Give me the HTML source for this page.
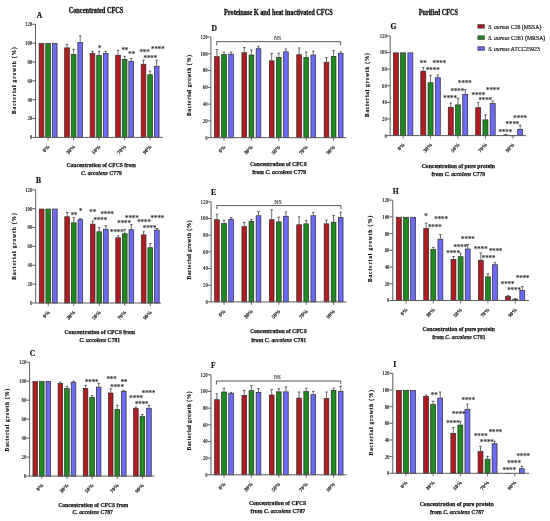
<!DOCTYPE html>
<html><head><meta charset="utf-8"><title>Figure</title>
<style>
html,body{margin:0;padding:0;background:#fff;}
body{width:550px;height:521px;overflow:hidden;}
svg{display:block;}
text{font-family:"Liberation Serif", "Times New Roman", serif;}
</style></head>
<body>
<svg width="550" height="521" viewBox="0 0 550 521">
<rect width="550" height="521" fill="#fff"/>
<rect x="39.15" y="43.50" width="4.70" height="93.90" fill="#b01c1f" stroke="#2a2a2a" stroke-width="0.7"/>
<rect x="45.75" y="43.50" width="4.70" height="93.90" fill="#1f8a21" stroke="#2a2a2a" stroke-width="0.7"/>
<rect x="52.35" y="43.50" width="4.70" height="93.90" fill="#6b6bf8" stroke="#2a2a2a" stroke-width="0.7"/>
<path d="M67.00 47.49V44.38M65.70 44.38H68.30" stroke="#3a3a3a" stroke-width="0.75" fill="none"/>
<rect x="64.65" y="47.84" width="4.70" height="89.56" fill="#b01c1f" stroke="#2a2a2a" stroke-width="0.7"/>
<path d="M73.60 53.99V49.37M72.30 49.37H74.90" stroke="#3a3a3a" stroke-width="0.75" fill="none"/>
<rect x="71.25" y="54.34" width="4.70" height="83.06" fill="#1f8a21" stroke="#2a2a2a" stroke-width="0.7"/>
<path d="M80.20 42.02V35.89M78.90 35.89H81.50" stroke="#3a3a3a" stroke-width="0.75" fill="none"/>
<rect x="77.85" y="42.37" width="4.70" height="95.03" fill="#6b6bf8" stroke="#2a2a2a" stroke-width="0.7"/>
<path d="M92.50 53.23V51.26M91.20 51.26H93.80" stroke="#3a3a3a" stroke-width="0.75" fill="none"/>
<rect x="90.15" y="53.58" width="4.70" height="83.82" fill="#b01c1f" stroke="#2a2a2a" stroke-width="0.7"/>
<path d="M99.10 55.21V51.26M97.80 51.26H100.40" stroke="#3a3a3a" stroke-width="0.75" fill="none"/>
<rect x="96.75" y="55.56" width="4.70" height="81.84" fill="#1f8a21" stroke="#2a2a2a" stroke-width="0.7"/>
<path d="M105.70 53.23V51.26M104.40 51.26H107.00" stroke="#3a3a3a" stroke-width="0.75" fill="none"/>
<rect x="103.35" y="53.58" width="4.70" height="83.82" fill="#6b6bf8" stroke="#2a2a2a" stroke-width="0.7"/>
<path d="M118.00 54.84V50.31M116.70 50.31H119.30" stroke="#3a3a3a" stroke-width="0.75" fill="none"/>
<rect x="115.65" y="55.19" width="4.70" height="82.21" fill="#b01c1f" stroke="#2a2a2a" stroke-width="0.7"/>
<path d="M124.60 59.17V56.34M123.30 56.34H125.90" stroke="#3a3a3a" stroke-width="0.75" fill="none"/>
<rect x="122.25" y="59.52" width="4.70" height="77.88" fill="#1f8a21" stroke="#2a2a2a" stroke-width="0.7"/>
<path d="M131.20 60.87V58.61M129.90 58.61H132.50" stroke="#3a3a3a" stroke-width="0.75" fill="none"/>
<rect x="128.85" y="61.22" width="4.70" height="76.18" fill="#6b6bf8" stroke="#2a2a2a" stroke-width="0.7"/>
<path d="M143.50 63.89V60.12M142.20 60.12H144.80" stroke="#3a3a3a" stroke-width="0.75" fill="none"/>
<rect x="141.15" y="64.23" width="4.70" height="73.17" fill="#b01c1f" stroke="#2a2a2a" stroke-width="0.7"/>
<path d="M150.10 74.44V71.14M148.80 71.14H151.40" stroke="#3a3a3a" stroke-width="0.75" fill="none"/>
<rect x="147.75" y="74.79" width="4.70" height="62.61" fill="#1f8a21" stroke="#2a2a2a" stroke-width="0.7"/>
<path d="M156.70 65.86V60.12M155.40 60.12H158.00" stroke="#3a3a3a" stroke-width="0.75" fill="none"/>
<rect x="154.35" y="66.21" width="4.70" height="71.19" fill="#6b6bf8" stroke="#2a2a2a" stroke-width="0.7"/>
<path d="M35.50 24.30V137.40H162.80" stroke="#5c5c5c" stroke-width="1.0" fill="none"/>
<path d="M32.20 137.40H35.50M32.20 118.55H35.50M32.20 99.70H35.50M32.20 80.85H35.50M32.20 62.00H35.50M32.20 43.15H35.50M32.20 24.30H35.50" stroke="#4a4a4a" stroke-width="0.9" fill="none"/>
<text x="29.80" y="139.30" font-size="5.5" text-anchor="start" textLength="2.40" lengthAdjust="spacingAndGlyphs" style="font-weight:bold" fill="#222" >0</text>
<text x="27.40" y="120.45" font-size="5.5" text-anchor="start" textLength="4.80" lengthAdjust="spacingAndGlyphs" style="font-weight:bold" fill="#222" >20</text>
<text x="27.40" y="101.60" font-size="5.5" text-anchor="start" textLength="4.80" lengthAdjust="spacingAndGlyphs" style="font-weight:bold" fill="#222" >40</text>
<text x="27.40" y="82.75" font-size="5.5" text-anchor="start" textLength="4.80" lengthAdjust="spacingAndGlyphs" style="font-weight:bold" fill="#222" >60</text>
<text x="27.40" y="63.90" font-size="5.5" text-anchor="start" textLength="4.80" lengthAdjust="spacingAndGlyphs" style="font-weight:bold" fill="#222" >80</text>
<text x="25.00" y="45.05" font-size="5.5" text-anchor="start" textLength="7.20" lengthAdjust="spacingAndGlyphs" style="font-weight:bold" fill="#222" >100</text>
<text x="25.00" y="26.20" font-size="5.5" text-anchor="start" textLength="7.20" lengthAdjust="spacingAndGlyphs" style="font-weight:bold" fill="#222" >120</text>
<path d="M48.10 137.40V140.40" stroke="#4a4a4a" stroke-width="0.8"/>
<text x="0" y="0" font-size="5.2" font-weight="bold" text-anchor="end" fill="#222" stroke="#222" stroke-width="0.15" transform="translate(50.00 146.80) rotate(-48)">0%</text>
<path d="M73.60 137.40V140.40" stroke="#4a4a4a" stroke-width="0.8"/>
<text x="0" y="0" font-size="5.2" font-weight="bold" text-anchor="end" fill="#222" stroke="#222" stroke-width="0.15" transform="translate(75.50 146.80) rotate(-48)">30%</text>
<path d="M99.10 137.40V140.40" stroke="#4a4a4a" stroke-width="0.8"/>
<text x="0" y="0" font-size="5.2" font-weight="bold" text-anchor="end" fill="#222" stroke="#222" stroke-width="0.15" transform="translate(101.00 146.80) rotate(-48)">50%</text>
<path d="M124.60 137.40V140.40" stroke="#4a4a4a" stroke-width="0.8"/>
<text x="0" y="0" font-size="5.2" font-weight="bold" text-anchor="end" fill="#222" stroke="#222" stroke-width="0.15" transform="translate(126.50 146.80) rotate(-48)">70%</text>
<path d="M150.10 137.40V140.40" stroke="#4a4a4a" stroke-width="0.8"/>
<text x="0" y="0" font-size="5.2" font-weight="bold" text-anchor="end" fill="#222" stroke="#222" stroke-width="0.15" transform="translate(152.00 146.80) rotate(-48)">90%</text>
<text x="97.90" y="51.00" font-size="8.4" text-anchor="start" textLength="3.40" lengthAdjust="spacingAndGlyphs" style="" fill="#333"  stroke="#333" stroke-width="0.2">*</text>
<text x="121.40" y="53.00" font-size="8.4" text-anchor="start" textLength="6.80" lengthAdjust="spacingAndGlyphs" style="" fill="#333"  stroke="#333" stroke-width="0.2">**</text>
<text x="128.35" y="57.00" font-size="8.4" text-anchor="start" textLength="6.80" lengthAdjust="spacingAndGlyphs" style="" fill="#333"  stroke="#333" stroke-width="0.2">**</text>
<text x="139.40" y="55.00" font-size="8.4" text-anchor="start" textLength="10.20" lengthAdjust="spacingAndGlyphs" style="" fill="#333"  stroke="#333" stroke-width="0.2">***</text>
<text x="143.55" y="61.00" font-size="8.4" text-anchor="start" textLength="13.60" lengthAdjust="spacingAndGlyphs" style="" fill="#333"  stroke="#333" stroke-width="0.2">****</text>
<text x="151.00" y="52.00" font-size="8.4" text-anchor="start" textLength="13.60" lengthAdjust="spacingAndGlyphs" style="" fill="#333"  stroke="#333" stroke-width="0.2">****</text>
<text x="36.80" y="17.90" font-size="7.6" text-anchor="start" style="font-weight:bold" fill="#111"  stroke="#111" stroke-width="0.2">A</text>
<text x="0" y="0" font-size="5.5" font-weight="bold" text-anchor="middle" textLength="66.80" lengthAdjust="spacing" fill="#111" stroke="#111" stroke-width="0.15" transform="translate(15.50 80.60) rotate(-90)">Bacterial growth (%)</text>
<text x="66.50" y="167.20" font-size="7.0" text-anchor="start" textLength="69.40" lengthAdjust="spacingAndGlyphs" style="font-weight:bold" fill="#111"  stroke="#111" stroke-width="0.25">Concentration of CFCS from</text>
<text x="81.10" y="175.20" font-size="7.0" text-anchor="start" textLength="40.70" lengthAdjust="spacingAndGlyphs" style="font-weight:bold" fill="#111"  stroke="#111" stroke-width="0.25"><tspan font-style="italic">C. accolens</tspan> C779</text>
<rect x="39.30" y="209.05" width="4.70" height="93.95" fill="#b01c1f" stroke="#2a2a2a" stroke-width="0.7"/>
<rect x="45.90" y="209.05" width="4.70" height="93.95" fill="#1f8a21" stroke="#2a2a2a" stroke-width="0.7"/>
<rect x="52.50" y="209.05" width="4.70" height="93.95" fill="#6b6bf8" stroke="#2a2a2a" stroke-width="0.7"/>
<path d="M67.15 216.43V212.47M65.85 212.47H68.45" stroke="#3a3a3a" stroke-width="0.75" fill="none"/>
<rect x="64.80" y="216.78" width="4.70" height="86.22" fill="#b01c1f" stroke="#2a2a2a" stroke-width="0.7"/>
<path d="M73.75 222.47V217.66M72.45 217.66H75.05" stroke="#3a3a3a" stroke-width="0.75" fill="none"/>
<rect x="71.40" y="222.82" width="4.70" height="80.18" fill="#1f8a21" stroke="#2a2a2a" stroke-width="0.7"/>
<path d="M80.35 219.36V218.70M79.05 218.70H81.65" stroke="#3a3a3a" stroke-width="0.75" fill="none"/>
<rect x="78.00" y="219.71" width="4.70" height="83.29" fill="#6b6bf8" stroke="#2a2a2a" stroke-width="0.7"/>
<path d="M92.65 223.79V221.05M91.35 221.05H93.95" stroke="#3a3a3a" stroke-width="0.75" fill="none"/>
<rect x="90.30" y="224.14" width="4.70" height="78.86" fill="#b01c1f" stroke="#2a2a2a" stroke-width="0.7"/>
<path d="M99.25 231.43V227.65M97.95 227.65H100.55" stroke="#3a3a3a" stroke-width="0.75" fill="none"/>
<rect x="96.90" y="231.78" width="4.70" height="71.22" fill="#1f8a21" stroke="#2a2a2a" stroke-width="0.7"/>
<path d="M105.85 228.88V225.77M104.55 225.77H107.15" stroke="#3a3a3a" stroke-width="0.75" fill="none"/>
<rect x="103.50" y="229.23" width="4.70" height="73.77" fill="#6b6bf8" stroke="#2a2a2a" stroke-width="0.7"/>
<path d="M118.15 237.46V235.76M116.85 235.76H119.45" stroke="#3a3a3a" stroke-width="0.75" fill="none"/>
<rect x="115.80" y="237.81" width="4.70" height="65.19" fill="#b01c1f" stroke="#2a2a2a" stroke-width="0.7"/>
<path d="M124.75 233.41V229.35M123.45 229.35H126.05" stroke="#3a3a3a" stroke-width="0.75" fill="none"/>
<rect x="122.40" y="233.76" width="4.70" height="69.24" fill="#1f8a21" stroke="#2a2a2a" stroke-width="0.7"/>
<path d="M131.35 229.35V224.54M130.05 224.54H132.65" stroke="#3a3a3a" stroke-width="0.75" fill="none"/>
<rect x="129.00" y="229.70" width="4.70" height="73.30" fill="#6b6bf8" stroke="#2a2a2a" stroke-width="0.7"/>
<path d="M143.65 234.54V231.80M142.35 231.80H144.95" stroke="#3a3a3a" stroke-width="0.75" fill="none"/>
<rect x="141.30" y="234.89" width="4.70" height="68.11" fill="#b01c1f" stroke="#2a2a2a" stroke-width="0.7"/>
<path d="M150.25 247.36V243.59M148.95 243.59H151.55" stroke="#3a3a3a" stroke-width="0.75" fill="none"/>
<rect x="147.90" y="247.71" width="4.70" height="55.29" fill="#1f8a21" stroke="#2a2a2a" stroke-width="0.7"/>
<path d="M156.85 229.63V228.50M155.55 228.50H158.15" stroke="#3a3a3a" stroke-width="0.75" fill="none"/>
<rect x="154.50" y="229.98" width="4.70" height="73.02" fill="#6b6bf8" stroke="#2a2a2a" stroke-width="0.7"/>
<path d="M35.70 189.84V303.00H161.00" stroke="#5c5c5c" stroke-width="1.0" fill="none"/>
<path d="M32.40 303.00H35.70M32.40 284.14H35.70M32.40 265.28H35.70M32.40 246.42H35.70M32.40 227.56H35.70M32.40 208.70H35.70M32.40 189.84H35.70" stroke="#4a4a4a" stroke-width="0.9" fill="none"/>
<text x="30.00" y="304.90" font-size="5.5" text-anchor="start" textLength="2.40" lengthAdjust="spacingAndGlyphs" style="font-weight:bold" fill="#222" >0</text>
<text x="27.60" y="286.04" font-size="5.5" text-anchor="start" textLength="4.80" lengthAdjust="spacingAndGlyphs" style="font-weight:bold" fill="#222" >20</text>
<text x="27.60" y="267.18" font-size="5.5" text-anchor="start" textLength="4.80" lengthAdjust="spacingAndGlyphs" style="font-weight:bold" fill="#222" >40</text>
<text x="27.60" y="248.32" font-size="5.5" text-anchor="start" textLength="4.80" lengthAdjust="spacingAndGlyphs" style="font-weight:bold" fill="#222" >60</text>
<text x="27.60" y="229.46" font-size="5.5" text-anchor="start" textLength="4.80" lengthAdjust="spacingAndGlyphs" style="font-weight:bold" fill="#222" >80</text>
<text x="25.20" y="210.60" font-size="5.5" text-anchor="start" textLength="7.20" lengthAdjust="spacingAndGlyphs" style="font-weight:bold" fill="#222" >100</text>
<text x="25.20" y="191.74" font-size="5.5" text-anchor="start" textLength="7.20" lengthAdjust="spacingAndGlyphs" style="font-weight:bold" fill="#222" >120</text>
<path d="M48.25 303.00V306.00" stroke="#4a4a4a" stroke-width="0.8"/>
<text x="0" y="0" font-size="5.2" font-weight="bold" text-anchor="end" fill="#222" stroke="#222" stroke-width="0.15" transform="translate(50.15 312.40) rotate(-48)">0%</text>
<path d="M73.75 303.00V306.00" stroke="#4a4a4a" stroke-width="0.8"/>
<text x="0" y="0" font-size="5.2" font-weight="bold" text-anchor="end" fill="#222" stroke="#222" stroke-width="0.15" transform="translate(75.65 312.40) rotate(-48)">30%</text>
<path d="M99.25 303.00V306.00" stroke="#4a4a4a" stroke-width="0.8"/>
<text x="0" y="0" font-size="5.2" font-weight="bold" text-anchor="end" fill="#222" stroke="#222" stroke-width="0.15" transform="translate(101.15 312.40) rotate(-48)">50%</text>
<path d="M124.75 303.00V306.00" stroke="#4a4a4a" stroke-width="0.8"/>
<text x="0" y="0" font-size="5.2" font-weight="bold" text-anchor="end" fill="#222" stroke="#222" stroke-width="0.15" transform="translate(126.65 312.40) rotate(-48)">70%</text>
<path d="M150.25 303.00V306.00" stroke="#4a4a4a" stroke-width="0.8"/>
<text x="0" y="0" font-size="5.2" font-weight="bold" text-anchor="end" fill="#222" stroke="#222" stroke-width="0.15" transform="translate(152.15 312.40) rotate(-48)">90%</text>
<text x="70.70" y="218.00" font-size="8.4" text-anchor="start" textLength="6.80" lengthAdjust="spacingAndGlyphs" style="" fill="#333"  stroke="#333" stroke-width="0.2">**</text>
<text x="78.95" y="214.00" font-size="8.4" text-anchor="start" textLength="3.40" lengthAdjust="spacingAndGlyphs" style="" fill="#333"  stroke="#333" stroke-width="0.2">*</text>
<text x="89.30" y="215.00" font-size="8.4" text-anchor="start" textLength="6.80" lengthAdjust="spacingAndGlyphs" style="" fill="#333"  stroke="#333" stroke-width="0.2">**</text>
<text x="93.50" y="223.00" font-size="8.4" text-anchor="start" textLength="13.60" lengthAdjust="spacingAndGlyphs" style="" fill="#333"  stroke="#333" stroke-width="0.2">****</text>
<text x="100.40" y="217.00" font-size="8.4" text-anchor="start" textLength="13.60" lengthAdjust="spacingAndGlyphs" style="" fill="#333"  stroke="#333" stroke-width="0.2">****</text>
<text x="110.00" y="235.00" font-size="8.4" text-anchor="start" textLength="13.60" lengthAdjust="spacingAndGlyphs" style="" fill="#333"  stroke="#333" stroke-width="0.2">****</text>
<text x="117.25" y="226.00" font-size="8.4" text-anchor="start" textLength="13.60" lengthAdjust="spacingAndGlyphs" style="" fill="#333"  stroke="#333" stroke-width="0.2">****</text>
<text x="125.00" y="221.00" font-size="8.4" text-anchor="start" textLength="13.60" lengthAdjust="spacingAndGlyphs" style="" fill="#333"  stroke="#333" stroke-width="0.2">****</text>
<text x="137.20" y="225.00" font-size="8.4" text-anchor="start" textLength="13.60" lengthAdjust="spacingAndGlyphs" style="" fill="#333"  stroke="#333" stroke-width="0.2">****</text>
<text x="142.80" y="231.00" font-size="8.4" text-anchor="start" textLength="13.60" lengthAdjust="spacingAndGlyphs" style="" fill="#333"  stroke="#333" stroke-width="0.2">****</text>
<text x="150.60" y="221.00" font-size="8.4" text-anchor="start" textLength="13.60" lengthAdjust="spacingAndGlyphs" style="" fill="#333"  stroke="#333" stroke-width="0.2">****</text>
<text x="36.10" y="183.30" font-size="7.6" text-anchor="start" style="font-weight:bold" fill="#111"  stroke="#111" stroke-width="0.2">B</text>
<text x="0" y="0" font-size="5.5" font-weight="bold" text-anchor="middle" textLength="66.50" lengthAdjust="spacing" fill="#111" stroke="#111" stroke-width="0.15" transform="translate(15.60 246.50) rotate(-90)">Bacterial growth (%)</text>
<text x="64.50" y="334.10" font-size="7.0" text-anchor="start" textLength="70.60" lengthAdjust="spacingAndGlyphs" style="font-weight:bold" fill="#111"  stroke="#111" stroke-width="0.25">Concentration of CFCS from</text>
<text x="79.50" y="341.90" font-size="7.0" text-anchor="start" textLength="40.60" lengthAdjust="spacingAndGlyphs" style="font-weight:bold" fill="#111"  stroke="#111" stroke-width="0.25"><tspan font-style="italic">C. accolens</tspan> C781</text>
<rect x="32.95" y="381.55" width="4.60" height="94.55" fill="#b01c1f" stroke="#2a2a2a" stroke-width="0.7"/>
<rect x="39.50" y="381.55" width="4.60" height="94.55" fill="#1f8a21" stroke="#2a2a2a" stroke-width="0.7"/>
<rect x="46.05" y="381.55" width="4.60" height="94.55" fill="#6b6bf8" stroke="#2a2a2a" stroke-width="0.7"/>
<path d="M60.40 383.19V382.15M59.10 382.15H61.70" stroke="#3a3a3a" stroke-width="0.75" fill="none"/>
<rect x="58.10" y="383.54" width="4.60" height="92.56" fill="#b01c1f" stroke="#2a2a2a" stroke-width="0.7"/>
<path d="M66.95 388.13V386.42M65.65 386.42H68.25" stroke="#3a3a3a" stroke-width="0.75" fill="none"/>
<rect x="64.65" y="388.48" width="4.60" height="87.62" fill="#1f8a21" stroke="#2a2a2a" stroke-width="0.7"/>
<path d="M73.50 381.96V381.20M72.20 381.20H74.80" stroke="#3a3a3a" stroke-width="0.75" fill="none"/>
<rect x="71.20" y="382.31" width="4.60" height="93.79" fill="#6b6bf8" stroke="#2a2a2a" stroke-width="0.7"/>
<path d="M85.55 388.03V385.38M84.25 385.38H86.85" stroke="#3a3a3a" stroke-width="0.75" fill="none"/>
<rect x="83.25" y="388.38" width="4.60" height="87.72" fill="#b01c1f" stroke="#2a2a2a" stroke-width="0.7"/>
<path d="M92.10 396.95V395.53M90.80 395.53H93.40" stroke="#3a3a3a" stroke-width="0.75" fill="none"/>
<rect x="89.80" y="397.30" width="4.60" height="78.80" fill="#1f8a21" stroke="#2a2a2a" stroke-width="0.7"/>
<path d="M98.65 386.80V383.38M97.35 383.38H99.95" stroke="#3a3a3a" stroke-width="0.75" fill="none"/>
<rect x="96.35" y="387.15" width="4.60" height="88.95" fill="#6b6bf8" stroke="#2a2a2a" stroke-width="0.7"/>
<path d="M110.70 392.68V388.89M109.40 388.89H112.00" stroke="#3a3a3a" stroke-width="0.75" fill="none"/>
<rect x="108.40" y="393.03" width="4.60" height="83.07" fill="#b01c1f" stroke="#2a2a2a" stroke-width="0.7"/>
<path d="M117.25 409.10V405.30M115.95 405.30H118.55" stroke="#3a3a3a" stroke-width="0.75" fill="none"/>
<rect x="114.95" y="409.45" width="4.60" height="66.65" fill="#1f8a21" stroke="#2a2a2a" stroke-width="0.7"/>
<path d="M123.80 391.07V390.60M122.50 390.60H125.10" stroke="#3a3a3a" stroke-width="0.75" fill="none"/>
<rect x="121.50" y="391.42" width="4.60" height="84.68" fill="#6b6bf8" stroke="#2a2a2a" stroke-width="0.7"/>
<path d="M135.85 408.25V407.01M134.55 407.01H137.15" stroke="#3a3a3a" stroke-width="0.75" fill="none"/>
<rect x="133.55" y="408.60" width="4.60" height="67.50" fill="#b01c1f" stroke="#2a2a2a" stroke-width="0.7"/>
<path d="M142.40 416.22V414.51M141.10 414.51H143.70" stroke="#3a3a3a" stroke-width="0.75" fill="none"/>
<rect x="140.10" y="416.57" width="4.60" height="59.53" fill="#1f8a21" stroke="#2a2a2a" stroke-width="0.7"/>
<path d="M148.95 407.87V405.30M147.65 405.30H150.25" stroke="#3a3a3a" stroke-width="0.75" fill="none"/>
<rect x="146.65" y="408.22" width="4.60" height="67.88" fill="#6b6bf8" stroke="#2a2a2a" stroke-width="0.7"/>
<path d="M29.60 362.22V476.10H154.50" stroke="#5c5c5c" stroke-width="1.0" fill="none"/>
<path d="M26.30 476.10H29.60M26.30 457.12H29.60M26.30 438.14H29.60M26.30 419.16H29.60M26.30 400.18H29.60M26.30 381.20H29.60M26.30 362.22H29.60" stroke="#4a4a4a" stroke-width="0.9" fill="none"/>
<text x="23.90" y="478.00" font-size="5.5" text-anchor="start" textLength="2.40" lengthAdjust="spacingAndGlyphs" style="font-weight:bold" fill="#222" >0</text>
<text x="21.50" y="459.02" font-size="5.5" text-anchor="start" textLength="4.80" lengthAdjust="spacingAndGlyphs" style="font-weight:bold" fill="#222" >20</text>
<text x="21.50" y="440.04" font-size="5.5" text-anchor="start" textLength="4.80" lengthAdjust="spacingAndGlyphs" style="font-weight:bold" fill="#222" >40</text>
<text x="21.50" y="421.06" font-size="5.5" text-anchor="start" textLength="4.80" lengthAdjust="spacingAndGlyphs" style="font-weight:bold" fill="#222" >60</text>
<text x="21.50" y="402.08" font-size="5.5" text-anchor="start" textLength="4.80" lengthAdjust="spacingAndGlyphs" style="font-weight:bold" fill="#222" >80</text>
<text x="19.10" y="383.10" font-size="5.5" text-anchor="start" textLength="7.20" lengthAdjust="spacingAndGlyphs" style="font-weight:bold" fill="#222" >100</text>
<text x="19.10" y="364.12" font-size="5.5" text-anchor="start" textLength="7.20" lengthAdjust="spacingAndGlyphs" style="font-weight:bold" fill="#222" >120</text>
<path d="M41.80 476.10V479.10" stroke="#4a4a4a" stroke-width="0.8"/>
<text x="0" y="0" font-size="5.2" font-weight="bold" text-anchor="end" fill="#222" stroke="#222" stroke-width="0.15" transform="translate(43.70 485.50) rotate(-48)">0%</text>
<path d="M66.95 476.10V479.10" stroke="#4a4a4a" stroke-width="0.8"/>
<text x="0" y="0" font-size="5.2" font-weight="bold" text-anchor="end" fill="#222" stroke="#222" stroke-width="0.15" transform="translate(68.85 485.50) rotate(-48)">30%</text>
<path d="M92.10 476.10V479.10" stroke="#4a4a4a" stroke-width="0.8"/>
<text x="0" y="0" font-size="5.2" font-weight="bold" text-anchor="end" fill="#222" stroke="#222" stroke-width="0.15" transform="translate(94.00 485.50) rotate(-48)">50%</text>
<path d="M117.25 476.10V479.10" stroke="#4a4a4a" stroke-width="0.8"/>
<text x="0" y="0" font-size="5.2" font-weight="bold" text-anchor="end" fill="#222" stroke="#222" stroke-width="0.15" transform="translate(119.15 485.50) rotate(-48)">70%</text>
<path d="M142.40 476.10V479.10" stroke="#4a4a4a" stroke-width="0.8"/>
<text x="0" y="0" font-size="5.2" font-weight="bold" text-anchor="end" fill="#222" stroke="#222" stroke-width="0.15" transform="translate(144.30 485.50) rotate(-48)">90%</text>
<text x="84.90" y="385.00" font-size="8.4" text-anchor="start" textLength="13.60" lengthAdjust="spacingAndGlyphs" style="" fill="#333"  stroke="#333" stroke-width="0.2">****</text>
<text x="106.45" y="382.00" font-size="8.4" text-anchor="start" textLength="10.20" lengthAdjust="spacingAndGlyphs" style="" fill="#333"  stroke="#333" stroke-width="0.2">***</text>
<text x="110.30" y="390.00" font-size="8.4" text-anchor="start" textLength="13.60" lengthAdjust="spacingAndGlyphs" style="" fill="#333"  stroke="#333" stroke-width="0.2">****</text>
<text x="120.65" y="385.00" font-size="8.4" text-anchor="start" textLength="6.80" lengthAdjust="spacingAndGlyphs" style="" fill="#333"  stroke="#333" stroke-width="0.2">**</text>
<text x="129.35" y="401.00" font-size="8.4" text-anchor="start" textLength="13.60" lengthAdjust="spacingAndGlyphs" style="" fill="#333"  stroke="#333" stroke-width="0.2">****</text>
<text x="134.90" y="407.00" font-size="8.4" text-anchor="start" textLength="13.60" lengthAdjust="spacingAndGlyphs" style="" fill="#333"  stroke="#333" stroke-width="0.2">****</text>
<text x="141.80" y="396.00" font-size="8.4" text-anchor="start" textLength="13.60" lengthAdjust="spacingAndGlyphs" style="" fill="#333"  stroke="#333" stroke-width="0.2">****</text>
<text x="29.70" y="356.10" font-size="7.6" text-anchor="start" style="font-weight:bold" fill="#111"  stroke="#111" stroke-width="0.2">C</text>
<text x="0" y="0" font-size="5.5" font-weight="bold" text-anchor="middle" textLength="62.80" lengthAdjust="spacing" fill="#111" stroke="#111" stroke-width="0.15" transform="translate(9.40 420.00) rotate(-90)">Bacterial growth (%)</text>
<text x="58.20" y="506.70" font-size="7.0" text-anchor="start" textLength="70.10" lengthAdjust="spacingAndGlyphs" style="font-weight:bold" fill="#111"  stroke="#111" stroke-width="0.25">Concentration of CFCS from</text>
<text x="72.60" y="514.20" font-size="7.0" text-anchor="start" textLength="40.30" lengthAdjust="spacingAndGlyphs" style="font-weight:bold" fill="#111"  stroke="#111" stroke-width="0.25"><tspan font-style="italic">C. accolens</tspan> C787</text>
<path d="M216.90 56.32V49.60M215.60 49.60H218.20" stroke="#3a3a3a" stroke-width="0.75" fill="none"/>
<rect x="214.55" y="56.67" width="4.70" height="81.03" fill="#b01c1f" stroke="#2a2a2a" stroke-width="0.7"/>
<path d="M224.00 54.14V52.12M222.70 52.12H225.30" stroke="#3a3a3a" stroke-width="0.75" fill="none"/>
<rect x="221.65" y="54.49" width="4.70" height="83.21" fill="#1f8a21" stroke="#2a2a2a" stroke-width="0.7"/>
<path d="M231.10 53.80V52.12M229.80 52.12H232.40" stroke="#3a3a3a" stroke-width="0.75" fill="none"/>
<rect x="228.75" y="54.15" width="4.70" height="83.55" fill="#6b6bf8" stroke="#2a2a2a" stroke-width="0.7"/>
<path d="M244.30 52.37V47.51M243.00 47.51H245.60" stroke="#3a3a3a" stroke-width="0.75" fill="none"/>
<rect x="241.95" y="52.72" width="4.70" height="84.98" fill="#b01c1f" stroke="#2a2a2a" stroke-width="0.7"/>
<path d="M251.40 54.64V49.94M250.10 49.94H252.70" stroke="#3a3a3a" stroke-width="0.75" fill="none"/>
<rect x="249.05" y="54.99" width="4.70" height="82.71" fill="#1f8a21" stroke="#2a2a2a" stroke-width="0.7"/>
<path d="M258.50 48.35V46.25M257.20 46.25H259.80" stroke="#3a3a3a" stroke-width="0.75" fill="none"/>
<rect x="256.15" y="48.70" width="4.70" height="89.00" fill="#6b6bf8" stroke="#2a2a2a" stroke-width="0.7"/>
<path d="M271.70 60.51V53.38M270.40 53.38H273.00" stroke="#3a3a3a" stroke-width="0.75" fill="none"/>
<rect x="269.35" y="60.86" width="4.70" height="76.84" fill="#b01c1f" stroke="#2a2a2a" stroke-width="0.7"/>
<path d="M278.80 57.16V53.13M277.50 53.13H280.10" stroke="#3a3a3a" stroke-width="0.75" fill="none"/>
<rect x="276.45" y="57.51" width="4.70" height="80.19" fill="#1f8a21" stroke="#2a2a2a" stroke-width="0.7"/>
<path d="M285.90 51.45V48.93M284.60 48.93H287.20" stroke="#3a3a3a" stroke-width="0.75" fill="none"/>
<rect x="283.55" y="51.80" width="4.70" height="85.90" fill="#6b6bf8" stroke="#2a2a2a" stroke-width="0.7"/>
<path d="M299.10 54.39V47.93M297.80 47.93H300.40" stroke="#3a3a3a" stroke-width="0.75" fill="none"/>
<rect x="296.75" y="54.74" width="4.70" height="82.96" fill="#b01c1f" stroke="#2a2a2a" stroke-width="0.7"/>
<path d="M306.20 57.16V52.12M304.90 52.12H307.50" stroke="#3a3a3a" stroke-width="0.75" fill="none"/>
<rect x="303.85" y="57.51" width="4.70" height="80.19" fill="#1f8a21" stroke="#2a2a2a" stroke-width="0.7"/>
<path d="M313.30 54.64V51.28M312.00 51.28H314.60" stroke="#3a3a3a" stroke-width="0.75" fill="none"/>
<rect x="310.95" y="54.99" width="4.70" height="82.71" fill="#6b6bf8" stroke="#2a2a2a" stroke-width="0.7"/>
<path d="M326.50 61.85V57.58M325.20 57.58H327.80" stroke="#3a3a3a" stroke-width="0.75" fill="none"/>
<rect x="324.15" y="62.20" width="4.70" height="75.50" fill="#b01c1f" stroke="#2a2a2a" stroke-width="0.7"/>
<path d="M333.60 56.07V50.44M332.30 50.44H334.90" stroke="#3a3a3a" stroke-width="0.75" fill="none"/>
<rect x="331.25" y="56.42" width="4.70" height="81.28" fill="#1f8a21" stroke="#2a2a2a" stroke-width="0.7"/>
<path d="M340.70 53.13V51.87M339.40 51.87H342.00" stroke="#3a3a3a" stroke-width="0.75" fill="none"/>
<rect x="338.35" y="53.48" width="4.70" height="84.22" fill="#6b6bf8" stroke="#2a2a2a" stroke-width="0.7"/>
<path d="M210.90 37.02V137.70H346.40" stroke="#5c5c5c" stroke-width="1.0" fill="none"/>
<path d="M207.60 137.70H210.90M207.60 120.92H210.90M207.60 104.14H210.90M207.60 87.36H210.90M207.60 70.58H210.90M207.60 53.80H210.90M207.60 37.02H210.90" stroke="#4a4a4a" stroke-width="0.9" fill="none"/>
<text x="205.20" y="139.60" font-size="5.5" text-anchor="start" textLength="2.40" lengthAdjust="spacingAndGlyphs" style="font-weight:bold" fill="#222" >0</text>
<text x="202.80" y="122.82" font-size="5.5" text-anchor="start" textLength="4.80" lengthAdjust="spacingAndGlyphs" style="font-weight:bold" fill="#222" >20</text>
<text x="202.80" y="106.04" font-size="5.5" text-anchor="start" textLength="4.80" lengthAdjust="spacingAndGlyphs" style="font-weight:bold" fill="#222" >40</text>
<text x="202.80" y="89.26" font-size="5.5" text-anchor="start" textLength="4.80" lengthAdjust="spacingAndGlyphs" style="font-weight:bold" fill="#222" >60</text>
<text x="202.80" y="72.48" font-size="5.5" text-anchor="start" textLength="4.80" lengthAdjust="spacingAndGlyphs" style="font-weight:bold" fill="#222" >80</text>
<text x="200.40" y="55.70" font-size="5.5" text-anchor="start" textLength="7.20" lengthAdjust="spacingAndGlyphs" style="font-weight:bold" fill="#222" >100</text>
<text x="200.40" y="38.92" font-size="5.5" text-anchor="start" textLength="7.20" lengthAdjust="spacingAndGlyphs" style="font-weight:bold" fill="#222" >120</text>
<path d="M224.00 137.70V140.70" stroke="#4a4a4a" stroke-width="0.8"/>
<text x="0" y="0" font-size="5.2" font-weight="bold" text-anchor="end" fill="#222" stroke="#222" stroke-width="0.15" transform="translate(225.90 147.10) rotate(-48)">0%</text>
<path d="M251.40 137.70V140.70" stroke="#4a4a4a" stroke-width="0.8"/>
<text x="0" y="0" font-size="5.2" font-weight="bold" text-anchor="end" fill="#222" stroke="#222" stroke-width="0.15" transform="translate(253.30 147.10) rotate(-48)">30%</text>
<path d="M278.80 137.70V140.70" stroke="#4a4a4a" stroke-width="0.8"/>
<text x="0" y="0" font-size="5.2" font-weight="bold" text-anchor="end" fill="#222" stroke="#222" stroke-width="0.15" transform="translate(280.70 147.10) rotate(-48)">50%</text>
<path d="M306.20 137.70V140.70" stroke="#4a4a4a" stroke-width="0.8"/>
<text x="0" y="0" font-size="5.2" font-weight="bold" text-anchor="end" fill="#222" stroke="#222" stroke-width="0.15" transform="translate(308.10 147.10) rotate(-48)">70%</text>
<path d="M333.60 137.70V140.70" stroke="#4a4a4a" stroke-width="0.8"/>
<text x="0" y="0" font-size="5.2" font-weight="bold" text-anchor="end" fill="#222" stroke="#222" stroke-width="0.15" transform="translate(335.50 147.10) rotate(-48)">90%</text>
<path d="M216.70 45.30V41.70H340.70V45.30" stroke="#555" stroke-width="1.0" fill="none"/>
<text x="273.90" y="40.00" font-size="5.8" text-anchor="start" textLength="7.10" lengthAdjust="spacingAndGlyphs" style="" fill="#222"  stroke="#222" stroke-width="0.1">NS</text>
<text x="211.40" y="30.50" font-size="7.6" text-anchor="start" style="font-weight:bold" fill="#111"  stroke="#111" stroke-width="0.2">D</text>
<text x="0" y="0" font-size="5.5" font-weight="bold" text-anchor="middle" textLength="61.00" lengthAdjust="spacing" fill="#111" stroke="#111" stroke-width="0.15" transform="translate(190.80 85.40) rotate(-90)">Bacterial growth (%)</text>
<text x="249.90" y="166.00" font-size="7.0" text-anchor="start" textLength="56.90" lengthAdjust="spacingAndGlyphs" style="font-weight:bold" fill="#111"  stroke="#111" stroke-width="0.25">Concentration of CFCS</text>
<text x="252.20" y="173.90" font-size="7.0" text-anchor="start" textLength="54.00" lengthAdjust="spacingAndGlyphs" style="font-weight:bold" fill="#111"  stroke="#111" stroke-width="0.25">from <tspan font-style="italic">C. accolens</tspan> C779</text>
<path d="M216.90 219.42V214.33M215.60 214.33H218.20" stroke="#3a3a3a" stroke-width="0.75" fill="none"/>
<rect x="214.55" y="219.77" width="4.70" height="82.13" fill="#b01c1f" stroke="#2a2a2a" stroke-width="0.7"/>
<path d="M224.00 223.25V220.33M222.70 220.33H225.30" stroke="#3a3a3a" stroke-width="0.75" fill="none"/>
<rect x="221.65" y="223.60" width="4.70" height="78.30" fill="#1f8a21" stroke="#2a2a2a" stroke-width="0.7"/>
<path d="M231.10 218.92V217.67M229.80 217.67H232.40" stroke="#3a3a3a" stroke-width="0.75" fill="none"/>
<rect x="228.75" y="219.27" width="4.70" height="82.63" fill="#6b6bf8" stroke="#2a2a2a" stroke-width="0.7"/>
<path d="M244.30 226.34V222.34M243.00 222.34H245.60" stroke="#3a3a3a" stroke-width="0.75" fill="none"/>
<rect x="241.95" y="226.69" width="4.70" height="75.21" fill="#b01c1f" stroke="#2a2a2a" stroke-width="0.7"/>
<path d="M251.40 221.09V219.67M250.10 219.67H252.70" stroke="#3a3a3a" stroke-width="0.75" fill="none"/>
<rect x="249.05" y="221.44" width="4.70" height="80.46" fill="#1f8a21" stroke="#2a2a2a" stroke-width="0.7"/>
<path d="M258.50 215.41V211.58M257.20 211.58H259.80" stroke="#3a3a3a" stroke-width="0.75" fill="none"/>
<rect x="256.15" y="215.76" width="4.70" height="86.14" fill="#6b6bf8" stroke="#2a2a2a" stroke-width="0.7"/>
<path d="M271.70 219.33V209.83M270.40 209.83H273.00" stroke="#3a3a3a" stroke-width="0.75" fill="none"/>
<rect x="269.35" y="219.68" width="4.70" height="82.22" fill="#b01c1f" stroke="#2a2a2a" stroke-width="0.7"/>
<path d="M278.80 221.50V217.17M277.50 217.17H280.10" stroke="#3a3a3a" stroke-width="0.75" fill="none"/>
<rect x="276.45" y="221.85" width="4.70" height="80.05" fill="#1f8a21" stroke="#2a2a2a" stroke-width="0.7"/>
<path d="M285.90 215.91V211.99M284.60 211.99H287.20" stroke="#3a3a3a" stroke-width="0.75" fill="none"/>
<rect x="283.55" y="216.26" width="4.70" height="85.64" fill="#6b6bf8" stroke="#2a2a2a" stroke-width="0.7"/>
<path d="M299.10 224.42V216.83M297.80 216.83H300.40" stroke="#3a3a3a" stroke-width="0.75" fill="none"/>
<rect x="296.75" y="224.77" width="4.70" height="77.13" fill="#b01c1f" stroke="#2a2a2a" stroke-width="0.7"/>
<path d="M306.20 223.50V220.58M304.90 220.58H307.50" stroke="#3a3a3a" stroke-width="0.75" fill="none"/>
<rect x="303.85" y="223.85" width="4.70" height="78.05" fill="#1f8a21" stroke="#2a2a2a" stroke-width="0.7"/>
<path d="M313.30 215.41V212.50M312.00 212.50H314.60" stroke="#3a3a3a" stroke-width="0.75" fill="none"/>
<rect x="310.95" y="215.76" width="4.70" height="86.14" fill="#6b6bf8" stroke="#2a2a2a" stroke-width="0.7"/>
<path d="M326.50 223.50V220.17M325.20 220.17H327.80" stroke="#3a3a3a" stroke-width="0.75" fill="none"/>
<rect x="324.15" y="223.85" width="4.70" height="78.05" fill="#b01c1f" stroke="#2a2a2a" stroke-width="0.7"/>
<path d="M333.60 221.84V215.41M332.30 215.41H334.90" stroke="#3a3a3a" stroke-width="0.75" fill="none"/>
<rect x="331.25" y="222.19" width="4.70" height="79.71" fill="#1f8a21" stroke="#2a2a2a" stroke-width="0.7"/>
<path d="M340.70 217.17V212.24M339.40 212.24H342.00" stroke="#3a3a3a" stroke-width="0.75" fill="none"/>
<rect x="338.35" y="217.52" width="4.70" height="84.38" fill="#6b6bf8" stroke="#2a2a2a" stroke-width="0.7"/>
<path d="M211.10 201.82V301.90H346.40" stroke="#5c5c5c" stroke-width="1.0" fill="none"/>
<path d="M207.80 301.90H211.10M207.80 285.22H211.10M207.80 268.54H211.10M207.80 251.86H211.10M207.80 235.18H211.10M207.80 218.50H211.10M207.80 201.82H211.10" stroke="#4a4a4a" stroke-width="0.9" fill="none"/>
<text x="205.40" y="303.80" font-size="5.5" text-anchor="start" textLength="2.40" lengthAdjust="spacingAndGlyphs" style="font-weight:bold" fill="#222" >0</text>
<text x="203.00" y="287.12" font-size="5.5" text-anchor="start" textLength="4.80" lengthAdjust="spacingAndGlyphs" style="font-weight:bold" fill="#222" >20</text>
<text x="203.00" y="270.44" font-size="5.5" text-anchor="start" textLength="4.80" lengthAdjust="spacingAndGlyphs" style="font-weight:bold" fill="#222" >40</text>
<text x="203.00" y="253.76" font-size="5.5" text-anchor="start" textLength="4.80" lengthAdjust="spacingAndGlyphs" style="font-weight:bold" fill="#222" >60</text>
<text x="203.00" y="237.08" font-size="5.5" text-anchor="start" textLength="4.80" lengthAdjust="spacingAndGlyphs" style="font-weight:bold" fill="#222" >80</text>
<text x="200.60" y="220.40" font-size="5.5" text-anchor="start" textLength="7.20" lengthAdjust="spacingAndGlyphs" style="font-weight:bold" fill="#222" >100</text>
<text x="200.60" y="203.72" font-size="5.5" text-anchor="start" textLength="7.20" lengthAdjust="spacingAndGlyphs" style="font-weight:bold" fill="#222" >120</text>
<path d="M224.00 301.90V304.90" stroke="#4a4a4a" stroke-width="0.8"/>
<text x="0" y="0" font-size="5.2" font-weight="bold" text-anchor="end" fill="#222" stroke="#222" stroke-width="0.15" transform="translate(225.90 311.30) rotate(-48)">0%</text>
<path d="M251.40 301.90V304.90" stroke="#4a4a4a" stroke-width="0.8"/>
<text x="0" y="0" font-size="5.2" font-weight="bold" text-anchor="end" fill="#222" stroke="#222" stroke-width="0.15" transform="translate(253.30 311.30) rotate(-48)">30%</text>
<path d="M278.80 301.90V304.90" stroke="#4a4a4a" stroke-width="0.8"/>
<text x="0" y="0" font-size="5.2" font-weight="bold" text-anchor="end" fill="#222" stroke="#222" stroke-width="0.15" transform="translate(280.70 311.30) rotate(-48)">50%</text>
<path d="M306.20 301.90V304.90" stroke="#4a4a4a" stroke-width="0.8"/>
<text x="0" y="0" font-size="5.2" font-weight="bold" text-anchor="end" fill="#222" stroke="#222" stroke-width="0.15" transform="translate(308.10 311.30) rotate(-48)">70%</text>
<path d="M333.60 301.90V304.90" stroke="#4a4a4a" stroke-width="0.8"/>
<text x="0" y="0" font-size="5.2" font-weight="bold" text-anchor="end" fill="#222" stroke="#222" stroke-width="0.15" transform="translate(335.50 311.30) rotate(-48)">90%</text>
<path d="M216.80 209.30V205.60H341.00V209.30" stroke="#555" stroke-width="1.0" fill="none"/>
<text x="274.30" y="203.90" font-size="5.8" text-anchor="start" textLength="7.40" lengthAdjust="spacingAndGlyphs" style="" fill="#222"  stroke="#222" stroke-width="0.1">NS</text>
<text x="211.10" y="195.30" font-size="7.6" text-anchor="start" style="font-weight:bold" fill="#111"  stroke="#111" stroke-width="0.2">E</text>
<text x="0" y="0" font-size="5.5" font-weight="bold" text-anchor="middle" textLength="59.00" lengthAdjust="spacing" fill="#111" stroke="#111" stroke-width="0.15" transform="translate(190.80 250.00) rotate(-90)">Bacterial growth (%)</text>
<text x="249.90" y="333.40" font-size="7.0" text-anchor="start" textLength="56.90" lengthAdjust="spacingAndGlyphs" style="font-weight:bold" fill="#111"  stroke="#111" stroke-width="0.25">Concentration of CFCS</text>
<text x="251.20" y="341.60" font-size="7.0" text-anchor="start" textLength="55.00" lengthAdjust="spacingAndGlyphs" style="font-weight:bold" fill="#111"  stroke="#111" stroke-width="0.25">from <tspan font-style="italic">C. accolens</tspan> C781</text>
<path d="M216.90 399.33V393.83M215.60 393.83H218.20" stroke="#3a3a3a" stroke-width="0.75" fill="none"/>
<rect x="214.55" y="399.68" width="4.70" height="75.12" fill="#b01c1f" stroke="#2a2a2a" stroke-width="0.7"/>
<path d="M224.00 391.67V388.17M222.70 388.17H225.30" stroke="#3a3a3a" stroke-width="0.75" fill="none"/>
<rect x="221.65" y="392.02" width="4.70" height="82.78" fill="#1f8a21" stroke="#2a2a2a" stroke-width="0.7"/>
<path d="M231.10 393.17V392.42M229.80 392.42H232.40" stroke="#3a3a3a" stroke-width="0.75" fill="none"/>
<rect x="228.75" y="393.52" width="4.70" height="81.28" fill="#6b6bf8" stroke="#2a2a2a" stroke-width="0.7"/>
<path d="M244.30 395.00V390.33M243.00 390.33H245.60" stroke="#3a3a3a" stroke-width="0.75" fill="none"/>
<rect x="241.95" y="395.35" width="4.70" height="79.45" fill="#b01c1f" stroke="#2a2a2a" stroke-width="0.7"/>
<path d="M251.40 390.33V385.67M250.10 385.67H252.70" stroke="#3a3a3a" stroke-width="0.75" fill="none"/>
<rect x="249.05" y="390.68" width="4.70" height="84.12" fill="#1f8a21" stroke="#2a2a2a" stroke-width="0.7"/>
<path d="M258.50 392.00V388.58M257.20 388.58H259.80" stroke="#3a3a3a" stroke-width="0.75" fill="none"/>
<rect x="256.15" y="392.35" width="4.70" height="82.45" fill="#6b6bf8" stroke="#2a2a2a" stroke-width="0.7"/>
<path d="M271.70 394.67V389.42M270.40 389.42H273.00" stroke="#3a3a3a" stroke-width="0.75" fill="none"/>
<rect x="269.35" y="395.02" width="4.70" height="79.78" fill="#b01c1f" stroke="#2a2a2a" stroke-width="0.7"/>
<path d="M278.80 391.50V388.75M277.50 388.75H280.10" stroke="#3a3a3a" stroke-width="0.75" fill="none"/>
<rect x="276.45" y="391.85" width="4.70" height="82.95" fill="#1f8a21" stroke="#2a2a2a" stroke-width="0.7"/>
<path d="M285.90 391.50V386.92M284.60 386.92H287.20" stroke="#3a3a3a" stroke-width="0.75" fill="none"/>
<rect x="283.55" y="391.85" width="4.70" height="82.95" fill="#6b6bf8" stroke="#2a2a2a" stroke-width="0.7"/>
<path d="M299.10 397.75V392.00M297.80 392.00H300.40" stroke="#3a3a3a" stroke-width="0.75" fill="none"/>
<rect x="296.75" y="398.10" width="4.70" height="76.70" fill="#b01c1f" stroke="#2a2a2a" stroke-width="0.7"/>
<path d="M306.20 391.17V388.17M304.90 388.17H307.50" stroke="#3a3a3a" stroke-width="0.75" fill="none"/>
<rect x="303.85" y="391.52" width="4.70" height="83.28" fill="#1f8a21" stroke="#2a2a2a" stroke-width="0.7"/>
<path d="M313.30 394.33V391.50M312.00 391.50H314.60" stroke="#3a3a3a" stroke-width="0.75" fill="none"/>
<rect x="310.95" y="394.68" width="4.70" height="80.12" fill="#6b6bf8" stroke="#2a2a2a" stroke-width="0.7"/>
<path d="M326.50 398.16V392.00M325.20 392.00H327.80" stroke="#3a3a3a" stroke-width="0.75" fill="none"/>
<rect x="324.15" y="398.51" width="4.70" height="76.29" fill="#b01c1f" stroke="#2a2a2a" stroke-width="0.7"/>
<path d="M333.60 390.00V388.17M332.30 388.17H334.90" stroke="#3a3a3a" stroke-width="0.75" fill="none"/>
<rect x="331.25" y="390.35" width="4.70" height="84.45" fill="#1f8a21" stroke="#2a2a2a" stroke-width="0.7"/>
<path d="M340.70 391.17V386.25M339.40 386.25H342.00" stroke="#3a3a3a" stroke-width="0.75" fill="none"/>
<rect x="338.35" y="391.52" width="4.70" height="83.28" fill="#6b6bf8" stroke="#2a2a2a" stroke-width="0.7"/>
<path d="M211.00 374.84V474.80H346.40" stroke="#5c5c5c" stroke-width="1.0" fill="none"/>
<path d="M207.70 474.80H211.00M207.70 458.14H211.00M207.70 441.48H211.00M207.70 424.82H211.00M207.70 408.16H211.00M207.70 391.50H211.00M207.70 374.84H211.00" stroke="#4a4a4a" stroke-width="0.9" fill="none"/>
<text x="205.30" y="476.70" font-size="5.5" text-anchor="start" textLength="2.40" lengthAdjust="spacingAndGlyphs" style="font-weight:bold" fill="#222" >0</text>
<text x="202.90" y="460.04" font-size="5.5" text-anchor="start" textLength="4.80" lengthAdjust="spacingAndGlyphs" style="font-weight:bold" fill="#222" >20</text>
<text x="202.90" y="443.38" font-size="5.5" text-anchor="start" textLength="4.80" lengthAdjust="spacingAndGlyphs" style="font-weight:bold" fill="#222" >40</text>
<text x="202.90" y="426.72" font-size="5.5" text-anchor="start" textLength="4.80" lengthAdjust="spacingAndGlyphs" style="font-weight:bold" fill="#222" >60</text>
<text x="202.90" y="410.06" font-size="5.5" text-anchor="start" textLength="4.80" lengthAdjust="spacingAndGlyphs" style="font-weight:bold" fill="#222" >80</text>
<text x="200.50" y="393.40" font-size="5.5" text-anchor="start" textLength="7.20" lengthAdjust="spacingAndGlyphs" style="font-weight:bold" fill="#222" >100</text>
<text x="200.50" y="376.74" font-size="5.5" text-anchor="start" textLength="7.20" lengthAdjust="spacingAndGlyphs" style="font-weight:bold" fill="#222" >120</text>
<path d="M224.00 474.80V477.80" stroke="#4a4a4a" stroke-width="0.8"/>
<text x="0" y="0" font-size="5.2" font-weight="bold" text-anchor="end" fill="#222" stroke="#222" stroke-width="0.15" transform="translate(225.90 484.20) rotate(-48)">0%</text>
<path d="M251.40 474.80V477.80" stroke="#4a4a4a" stroke-width="0.8"/>
<text x="0" y="0" font-size="5.2" font-weight="bold" text-anchor="end" fill="#222" stroke="#222" stroke-width="0.15" transform="translate(253.30 484.20) rotate(-48)">30%</text>
<path d="M278.80 474.80V477.80" stroke="#4a4a4a" stroke-width="0.8"/>
<text x="0" y="0" font-size="5.2" font-weight="bold" text-anchor="end" fill="#222" stroke="#222" stroke-width="0.15" transform="translate(280.70 484.20) rotate(-48)">50%</text>
<path d="M306.20 474.80V477.80" stroke="#4a4a4a" stroke-width="0.8"/>
<text x="0" y="0" font-size="5.2" font-weight="bold" text-anchor="end" fill="#222" stroke="#222" stroke-width="0.15" transform="translate(308.10 484.20) rotate(-48)">70%</text>
<path d="M333.60 474.80V477.80" stroke="#4a4a4a" stroke-width="0.8"/>
<text x="0" y="0" font-size="5.2" font-weight="bold" text-anchor="end" fill="#222" stroke="#222" stroke-width="0.15" transform="translate(335.50 484.20) rotate(-48)">90%</text>
<path d="M216.40 384.40V381.00H340.80V384.40" stroke="#555" stroke-width="1.0" fill="none"/>
<text x="273.90" y="378.70" font-size="5.8" text-anchor="start" textLength="6.90" lengthAdjust="spacingAndGlyphs" style="" fill="#222"  stroke="#222" stroke-width="0.1">NS</text>
<text x="211.10" y="367.90" font-size="7.6" text-anchor="start" style="font-weight:bold" fill="#111"  stroke="#111" stroke-width="0.2">F</text>
<text x="0" y="0" font-size="5.5" font-weight="bold" text-anchor="middle" textLength="59.00" lengthAdjust="spacing" fill="#111" stroke="#111" stroke-width="0.15" transform="translate(190.60 421.00) rotate(-90)">Bacterial growth (%)</text>
<text x="248.90" y="505.10" font-size="7.0" text-anchor="start" textLength="57.30" lengthAdjust="spacingAndGlyphs" style="font-weight:bold" fill="#111"  stroke="#111" stroke-width="0.25">Concentration of CFCS</text>
<text x="250.50" y="513.20" font-size="7.0" text-anchor="start" textLength="54.70" lengthAdjust="spacingAndGlyphs" style="font-weight:bold" fill="#111"  stroke="#111" stroke-width="0.25">from <tspan font-style="italic">C. accolens</tspan> C787</text>
<rect x="393.35" y="52.85" width="5.00" height="82.75" fill="#b01c1f" stroke="#2a2a2a" stroke-width="0.7"/>
<rect x="400.60" y="52.85" width="5.00" height="82.75" fill="#1f8a21" stroke="#2a2a2a" stroke-width="0.7"/>
<rect x="407.85" y="52.85" width="5.00" height="82.75" fill="#6b6bf8" stroke="#2a2a2a" stroke-width="0.7"/>
<path d="M423.30 70.78V67.46M422.00 67.46H424.60" stroke="#3a3a3a" stroke-width="0.75" fill="none"/>
<rect x="420.80" y="71.13" width="5.00" height="64.47" fill="#b01c1f" stroke="#2a2a2a" stroke-width="0.7"/>
<path d="M430.55 82.42V75.35M429.25 75.35H431.85" stroke="#3a3a3a" stroke-width="0.75" fill="none"/>
<rect x="428.05" y="82.77" width="5.00" height="52.83" fill="#1f8a21" stroke="#2a2a2a" stroke-width="0.7"/>
<path d="M437.80 77.43V74.94M436.50 74.94H439.10" stroke="#3a3a3a" stroke-width="0.75" fill="none"/>
<rect x="435.30" y="77.78" width="5.00" height="57.82" fill="#6b6bf8" stroke="#2a2a2a" stroke-width="0.7"/>
<path d="M450.75 106.93V103.19M449.45 103.19H452.05" stroke="#3a3a3a" stroke-width="0.75" fill="none"/>
<rect x="448.25" y="107.28" width="5.00" height="28.32" fill="#b01c1f" stroke="#2a2a2a" stroke-width="0.7"/>
<path d="M458.00 104.52V98.20M456.70 98.20H459.30" stroke="#3a3a3a" stroke-width="0.75" fill="none"/>
<rect x="455.50" y="104.87" width="5.00" height="30.73" fill="#1f8a21" stroke="#2a2a2a" stroke-width="0.7"/>
<path d="M465.25 94.05V89.65M463.95 89.65H466.55" stroke="#3a3a3a" stroke-width="0.75" fill="none"/>
<rect x="462.75" y="94.40" width="5.00" height="41.20" fill="#6b6bf8" stroke="#2a2a2a" stroke-width="0.7"/>
<path d="M478.20 107.35V102.36M476.90 102.36H479.50" stroke="#3a3a3a" stroke-width="0.75" fill="none"/>
<rect x="475.70" y="107.70" width="5.00" height="27.90" fill="#b01c1f" stroke="#2a2a2a" stroke-width="0.7"/>
<path d="M485.45 119.48V114.82M484.15 114.82H486.75" stroke="#3a3a3a" stroke-width="0.75" fill="none"/>
<rect x="482.95" y="119.83" width="5.00" height="15.77" fill="#1f8a21" stroke="#2a2a2a" stroke-width="0.7"/>
<path d="M492.70 103.19V101.03M491.40 101.03H494.00" stroke="#3a3a3a" stroke-width="0.75" fill="none"/>
<rect x="490.20" y="103.54" width="5.00" height="32.06" fill="#6b6bf8" stroke="#2a2a2a" stroke-width="0.7"/>
<path d="M505.65 134.77V134.35M504.35 134.35H506.95" stroke="#3a3a3a" stroke-width="0.75" fill="none"/>
<rect x="503.15" y="135.12" width="5.00" height="0.48" fill="#b01c1f" stroke="#2a2a2a" stroke-width="0.7"/>
<rect x="510.40" y="135.70" width="5.00" height="0.10" fill="#1f8a21" stroke="#2a2a2a" stroke-width="0.7"/>
<path d="M520.15 128.95V125.21M518.85 125.21H521.45" stroke="#3a3a3a" stroke-width="0.75" fill="none"/>
<rect x="517.65" y="129.30" width="5.00" height="6.30" fill="#6b6bf8" stroke="#2a2a2a" stroke-width="0.7"/>
<path d="M390.20 35.88V135.60H525.90" stroke="#5c5c5c" stroke-width="1.0" fill="none"/>
<path d="M386.90 135.60H390.20M386.90 118.98H390.20M386.90 102.36H390.20M386.90 85.74H390.20M386.90 69.12H390.20M386.90 52.50H390.20M386.90 35.88H390.20" stroke="#4a4a4a" stroke-width="0.9" fill="none"/>
<text x="384.50" y="137.50" font-size="5.5" text-anchor="start" textLength="2.40" lengthAdjust="spacingAndGlyphs" style="font-weight:bold" fill="#222" >0</text>
<text x="382.10" y="120.88" font-size="5.5" text-anchor="start" textLength="4.80" lengthAdjust="spacingAndGlyphs" style="font-weight:bold" fill="#222" >20</text>
<text x="382.10" y="104.26" font-size="5.5" text-anchor="start" textLength="4.80" lengthAdjust="spacingAndGlyphs" style="font-weight:bold" fill="#222" >40</text>
<text x="382.10" y="87.64" font-size="5.5" text-anchor="start" textLength="4.80" lengthAdjust="spacingAndGlyphs" style="font-weight:bold" fill="#222" >60</text>
<text x="382.10" y="71.02" font-size="5.5" text-anchor="start" textLength="4.80" lengthAdjust="spacingAndGlyphs" style="font-weight:bold" fill="#222" >80</text>
<text x="379.70" y="54.40" font-size="5.5" text-anchor="start" textLength="7.20" lengthAdjust="spacingAndGlyphs" style="font-weight:bold" fill="#222" >100</text>
<text x="379.70" y="37.78" font-size="5.5" text-anchor="start" textLength="7.20" lengthAdjust="spacingAndGlyphs" style="font-weight:bold" fill="#222" >120</text>
<path d="M403.10 135.60V138.60" stroke="#4a4a4a" stroke-width="0.8"/>
<text x="0" y="0" font-size="5.2" font-weight="bold" text-anchor="end" fill="#222" stroke="#222" stroke-width="0.15" transform="translate(405.00 145.00) rotate(-48)">0%</text>
<path d="M430.55 135.60V138.60" stroke="#4a4a4a" stroke-width="0.8"/>
<text x="0" y="0" font-size="5.2" font-weight="bold" text-anchor="end" fill="#222" stroke="#222" stroke-width="0.15" transform="translate(432.45 145.00) rotate(-48)">30%</text>
<path d="M458.00 135.60V138.60" stroke="#4a4a4a" stroke-width="0.8"/>
<text x="0" y="0" font-size="5.2" font-weight="bold" text-anchor="end" fill="#222" stroke="#222" stroke-width="0.15" transform="translate(459.90 145.00) rotate(-48)">50%</text>
<path d="M485.45 135.60V138.60" stroke="#4a4a4a" stroke-width="0.8"/>
<text x="0" y="0" font-size="5.2" font-weight="bold" text-anchor="end" fill="#222" stroke="#222" stroke-width="0.15" transform="translate(487.35 145.00) rotate(-48)">70%</text>
<path d="M512.90 135.60V138.60" stroke="#4a4a4a" stroke-width="0.8"/>
<text x="0" y="0" font-size="5.2" font-weight="bold" text-anchor="end" fill="#222" stroke="#222" stroke-width="0.15" transform="translate(514.80 145.00) rotate(-48)">90%</text>
<text x="419.80" y="66.00" font-size="8.4" text-anchor="start" textLength="6.80" lengthAdjust="spacingAndGlyphs" style="" fill="#333"  stroke="#333" stroke-width="0.2">**</text>
<text x="425.95" y="73.00" font-size="8.4" text-anchor="start" textLength="13.60" lengthAdjust="spacingAndGlyphs" style="" fill="#333"  stroke="#333" stroke-width="0.2">****</text>
<text x="432.50" y="66.00" font-size="8.4" text-anchor="start" textLength="13.60" lengthAdjust="spacingAndGlyphs" style="" fill="#333"  stroke="#333" stroke-width="0.2">****</text>
<text x="443.30" y="101.00" font-size="8.4" text-anchor="start" textLength="13.60" lengthAdjust="spacingAndGlyphs" style="" fill="#333"  stroke="#333" stroke-width="0.2">****</text>
<text x="450.50" y="94.00" font-size="8.4" text-anchor="start" textLength="13.60" lengthAdjust="spacingAndGlyphs" style="" fill="#333"  stroke="#333" stroke-width="0.2">****</text>
<text x="458.10" y="86.00" font-size="8.4" text-anchor="start" textLength="13.60" lengthAdjust="spacingAndGlyphs" style="" fill="#333"  stroke="#333" stroke-width="0.2">****</text>
<text x="471.50" y="98.00" font-size="8.4" text-anchor="start" textLength="13.60" lengthAdjust="spacingAndGlyphs" style="" fill="#333"  stroke="#333" stroke-width="0.2">****</text>
<text x="478.40" y="103.00" font-size="8.4" text-anchor="start" textLength="13.60" lengthAdjust="spacingAndGlyphs" style="" fill="#333"  stroke="#333" stroke-width="0.2">****</text>
<text x="486.00" y="93.00" font-size="8.4" text-anchor="start" textLength="13.60" lengthAdjust="spacingAndGlyphs" style="" fill="#333"  stroke="#333" stroke-width="0.2">****</text>
<text x="498.55" y="135.00" font-size="8.4" text-anchor="start" textLength="13.60" lengthAdjust="spacingAndGlyphs" style="" fill="#333"  stroke="#333" stroke-width="0.2">****</text>
<text x="505.60" y="127.00" font-size="8.4" text-anchor="start" textLength="13.60" lengthAdjust="spacingAndGlyphs" style="" fill="#333"  stroke="#333" stroke-width="0.2">****</text>
<text x="513.35" y="121.00" font-size="8.4" text-anchor="start" textLength="13.60" lengthAdjust="spacingAndGlyphs" style="" fill="#333"  stroke="#333" stroke-width="0.2">****</text>
<text x="390.40" y="29.20" font-size="7.6" text-anchor="start" style="font-weight:bold" fill="#111"  stroke="#111" stroke-width="0.2">G</text>
<text x="0" y="0" font-size="5.5" font-weight="bold" text-anchor="middle" textLength="63.80" lengthAdjust="spacing" fill="#111" stroke="#111" stroke-width="0.15" transform="translate(369.10 85.10) rotate(-90)">Bacterial growth (%)</text>
<text x="421.70" y="167.70" font-size="7.0" text-anchor="start" textLength="73.30" lengthAdjust="spacingAndGlyphs" style="font-weight:bold" fill="#111"  stroke="#111" stroke-width="0.25">Concentration of pure protein</text>
<text x="431.50" y="175.50" font-size="7.0" text-anchor="start" textLength="53.70" lengthAdjust="spacingAndGlyphs" style="font-weight:bold" fill="#111"  stroke="#111" stroke-width="0.25">from <tspan font-style="italic">C. accolens</tspan> C779</text>
<rect x="396.45" y="217.25" width="4.90" height="83.25" fill="#b01c1f" stroke="#2a2a2a" stroke-width="0.7"/>
<rect x="403.55" y="217.25" width="4.90" height="83.25" fill="#1f8a21" stroke="#2a2a2a" stroke-width="0.7"/>
<rect x="410.65" y="217.25" width="4.90" height="83.25" fill="#6b6bf8" stroke="#2a2a2a" stroke-width="0.7"/>
<path d="M426.20 228.10V223.17M424.90 223.17H427.50" stroke="#3a3a3a" stroke-width="0.75" fill="none"/>
<rect x="423.75" y="228.45" width="4.90" height="72.05" fill="#b01c1f" stroke="#2a2a2a" stroke-width="0.7"/>
<path d="M433.30 249.25V247.41M432.00 247.41H434.60" stroke="#3a3a3a" stroke-width="0.75" fill="none"/>
<rect x="430.85" y="249.60" width="4.90" height="50.90" fill="#1f8a21" stroke="#2a2a2a" stroke-width="0.7"/>
<path d="M440.40 238.80V234.46M439.10 234.46H441.70" stroke="#3a3a3a" stroke-width="0.75" fill="none"/>
<rect x="437.95" y="239.15" width="4.90" height="61.35" fill="#6b6bf8" stroke="#2a2a2a" stroke-width="0.7"/>
<path d="M453.50 259.12V256.53M452.20 256.53H454.80" stroke="#3a3a3a" stroke-width="0.75" fill="none"/>
<rect x="451.05" y="259.47" width="4.90" height="41.03" fill="#b01c1f" stroke="#2a2a2a" stroke-width="0.7"/>
<path d="M460.60 256.36V253.10M459.30 253.10H461.90" stroke="#3a3a3a" stroke-width="0.75" fill="none"/>
<rect x="458.15" y="256.71" width="4.90" height="43.79" fill="#1f8a21" stroke="#2a2a2a" stroke-width="0.7"/>
<path d="M467.70 248.67V244.49M466.40 244.49H469.00" stroke="#3a3a3a" stroke-width="0.75" fill="none"/>
<rect x="465.25" y="249.02" width="4.90" height="51.48" fill="#6b6bf8" stroke="#2a2a2a" stroke-width="0.7"/>
<path d="M480.80 259.87V252.93M479.50 252.93H482.10" stroke="#3a3a3a" stroke-width="0.75" fill="none"/>
<rect x="478.35" y="260.22" width="4.90" height="40.28" fill="#b01c1f" stroke="#2a2a2a" stroke-width="0.7"/>
<path d="M487.90 276.51V273.75M486.60 273.75H489.20" stroke="#3a3a3a" stroke-width="0.75" fill="none"/>
<rect x="485.45" y="276.86" width="4.90" height="23.64" fill="#1f8a21" stroke="#2a2a2a" stroke-width="0.7"/>
<path d="M495.00 264.38V262.63M493.70 262.63H496.30" stroke="#3a3a3a" stroke-width="0.75" fill="none"/>
<rect x="492.55" y="264.73" width="4.90" height="35.77" fill="#6b6bf8" stroke="#2a2a2a" stroke-width="0.7"/>
<path d="M508.10 296.15V295.48M506.80 295.48H509.40" stroke="#3a3a3a" stroke-width="0.75" fill="none"/>
<rect x="505.65" y="296.50" width="4.90" height="4.00" fill="#b01c1f" stroke="#2a2a2a" stroke-width="0.7"/>
<path d="M515.20 298.91V298.66M513.90 298.66H516.50" stroke="#3a3a3a" stroke-width="0.75" fill="none"/>
<rect x="512.75" y="299.26" width="4.90" height="1.24" fill="#1f8a21" stroke="#2a2a2a" stroke-width="0.7"/>
<path d="M522.30 290.05V286.62M521.00 286.62H523.60" stroke="#3a3a3a" stroke-width="0.75" fill="none"/>
<rect x="519.85" y="290.40" width="4.90" height="10.10" fill="#6b6bf8" stroke="#2a2a2a" stroke-width="0.7"/>
<path d="M392.80 200.18V300.50H529.00" stroke="#5c5c5c" stroke-width="1.0" fill="none"/>
<path d="M389.50 300.50H392.80M389.50 283.78H392.80M389.50 267.06H392.80M389.50 250.34H392.80M389.50 233.62H392.80M389.50 216.90H392.80M389.50 200.18H392.80" stroke="#4a4a4a" stroke-width="0.9" fill="none"/>
<text x="387.10" y="302.40" font-size="5.5" text-anchor="start" textLength="2.40" lengthAdjust="spacingAndGlyphs" style="font-weight:bold" fill="#222" >0</text>
<text x="384.70" y="285.68" font-size="5.5" text-anchor="start" textLength="4.80" lengthAdjust="spacingAndGlyphs" style="font-weight:bold" fill="#222" >20</text>
<text x="384.70" y="268.96" font-size="5.5" text-anchor="start" textLength="4.80" lengthAdjust="spacingAndGlyphs" style="font-weight:bold" fill="#222" >40</text>
<text x="384.70" y="252.24" font-size="5.5" text-anchor="start" textLength="4.80" lengthAdjust="spacingAndGlyphs" style="font-weight:bold" fill="#222" >60</text>
<text x="384.70" y="235.52" font-size="5.5" text-anchor="start" textLength="4.80" lengthAdjust="spacingAndGlyphs" style="font-weight:bold" fill="#222" >80</text>
<text x="382.30" y="218.80" font-size="5.5" text-anchor="start" textLength="7.20" lengthAdjust="spacingAndGlyphs" style="font-weight:bold" fill="#222" >100</text>
<text x="382.30" y="202.08" font-size="5.5" text-anchor="start" textLength="7.20" lengthAdjust="spacingAndGlyphs" style="font-weight:bold" fill="#222" >120</text>
<path d="M406.00 300.50V303.50" stroke="#4a4a4a" stroke-width="0.8"/>
<text x="0" y="0" font-size="5.2" font-weight="bold" text-anchor="end" fill="#222" stroke="#222" stroke-width="0.15" transform="translate(407.90 309.90) rotate(-48)">0%</text>
<path d="M433.30 300.50V303.50" stroke="#4a4a4a" stroke-width="0.8"/>
<text x="0" y="0" font-size="5.2" font-weight="bold" text-anchor="end" fill="#222" stroke="#222" stroke-width="0.15" transform="translate(435.20 309.90) rotate(-48)">30%</text>
<path d="M460.60 300.50V303.50" stroke="#4a4a4a" stroke-width="0.8"/>
<text x="0" y="0" font-size="5.2" font-weight="bold" text-anchor="end" fill="#222" stroke="#222" stroke-width="0.15" transform="translate(462.50 309.90) rotate(-48)">50%</text>
<path d="M487.90 300.50V303.50" stroke="#4a4a4a" stroke-width="0.8"/>
<text x="0" y="0" font-size="5.2" font-weight="bold" text-anchor="end" fill="#222" stroke="#222" stroke-width="0.15" transform="translate(489.80 309.90) rotate(-48)">70%</text>
<path d="M515.20 300.50V303.50" stroke="#4a4a4a" stroke-width="0.8"/>
<text x="0" y="0" font-size="5.2" font-weight="bold" text-anchor="end" fill="#222" stroke="#222" stroke-width="0.15" transform="translate(517.10 309.90) rotate(-48)">90%</text>
<text x="424.25" y="219.00" font-size="8.4" text-anchor="start" textLength="3.40" lengthAdjust="spacingAndGlyphs" style="" fill="#333"  stroke="#333" stroke-width="0.2">*</text>
<text x="427.95" y="230.00" font-size="8.4" text-anchor="start" textLength="13.60" lengthAdjust="spacingAndGlyphs" style="" fill="#333"  stroke="#333" stroke-width="0.2">****</text>
<text x="434.30" y="222.00" font-size="8.4" text-anchor="start" textLength="13.60" lengthAdjust="spacingAndGlyphs" style="" fill="#333"  stroke="#333" stroke-width="0.2">****</text>
<text x="446.30" y="256.00" font-size="8.4" text-anchor="start" textLength="13.60" lengthAdjust="spacingAndGlyphs" style="" fill="#333"  stroke="#333" stroke-width="0.2">****</text>
<text x="453.50" y="250.00" font-size="8.4" text-anchor="start" textLength="13.60" lengthAdjust="spacingAndGlyphs" style="" fill="#333"  stroke="#333" stroke-width="0.2">****</text>
<text x="461.10" y="242.00" font-size="8.4" text-anchor="start" textLength="13.60" lengthAdjust="spacingAndGlyphs" style="" fill="#333"  stroke="#333" stroke-width="0.2">****</text>
<text x="473.95" y="252.00" font-size="8.4" text-anchor="start" textLength="13.60" lengthAdjust="spacingAndGlyphs" style="" fill="#333"  stroke="#333" stroke-width="0.2">****</text>
<text x="481.80" y="261.00" font-size="8.4" text-anchor="start" textLength="13.60" lengthAdjust="spacingAndGlyphs" style="" fill="#333"  stroke="#333" stroke-width="0.2">****</text>
<text x="488.90" y="254.00" font-size="8.4" text-anchor="start" textLength="13.60" lengthAdjust="spacingAndGlyphs" style="" fill="#333"  stroke="#333" stroke-width="0.2">****</text>
<text x="500.80" y="287.00" font-size="8.4" text-anchor="start" textLength="13.60" lengthAdjust="spacingAndGlyphs" style="" fill="#333"  stroke="#333" stroke-width="0.2">****</text>
<text x="507.20" y="293.00" font-size="8.4" text-anchor="start" textLength="13.60" lengthAdjust="spacingAndGlyphs" style="" fill="#333"  stroke="#333" stroke-width="0.2">****</text>
<text x="515.90" y="281.00" font-size="8.4" text-anchor="start" textLength="13.60" lengthAdjust="spacingAndGlyphs" style="" fill="#333"  stroke="#333" stroke-width="0.2">****</text>
<text x="392.80" y="193.90" font-size="7.6" text-anchor="start" style="font-weight:bold" fill="#111"  stroke="#111" stroke-width="0.2">H</text>
<text x="0" y="0" font-size="5.5" font-weight="bold" text-anchor="middle" textLength="66.50" lengthAdjust="spacing" fill="#111" stroke="#111" stroke-width="0.15" transform="translate(372.30 248.80) rotate(-90)">Bacterial growth (%)</text>
<text x="422.40" y="331.10" font-size="7.0" text-anchor="start" textLength="72.60" lengthAdjust="spacingAndGlyphs" style="font-weight:bold" fill="#111"  stroke="#111" stroke-width="0.25">Concentration of pure protein</text>
<text x="432.20" y="339.00" font-size="7.0" text-anchor="start" textLength="53.30" lengthAdjust="spacingAndGlyphs" style="font-weight:bold" fill="#111"  stroke="#111" stroke-width="0.25">from <tspan font-style="italic">C. accolens</tspan> C781</text>
<rect x="396.45" y="390.35" width="4.90" height="82.95" fill="#b01c1f" stroke="#2a2a2a" stroke-width="0.7"/>
<rect x="403.50" y="390.35" width="4.90" height="82.95" fill="#1f8a21" stroke="#2a2a2a" stroke-width="0.7"/>
<rect x="410.55" y="390.35" width="4.90" height="82.95" fill="#6b6bf8" stroke="#2a2a2a" stroke-width="0.7"/>
<path d="M426.10 396.00V395.08M424.80 395.08H427.40" stroke="#3a3a3a" stroke-width="0.75" fill="none"/>
<rect x="423.65" y="396.35" width="4.90" height="76.95" fill="#b01c1f" stroke="#2a2a2a" stroke-width="0.7"/>
<path d="M433.15 404.16V401.25M431.85 401.25H434.45" stroke="#3a3a3a" stroke-width="0.75" fill="none"/>
<rect x="430.70" y="404.51" width="4.90" height="68.79" fill="#1f8a21" stroke="#2a2a2a" stroke-width="0.7"/>
<path d="M440.20 397.75V392.00M438.90 392.00H441.50" stroke="#3a3a3a" stroke-width="0.75" fill="none"/>
<rect x="437.75" y="398.10" width="4.90" height="75.20" fill="#6b6bf8" stroke="#2a2a2a" stroke-width="0.7"/>
<path d="M453.30 433.07V427.49M452.00 427.49H454.60" stroke="#3a3a3a" stroke-width="0.75" fill="none"/>
<rect x="450.85" y="433.42" width="4.90" height="39.88" fill="#b01c1f" stroke="#2a2a2a" stroke-width="0.7"/>
<path d="M460.35 424.74V421.40M459.05 421.40H461.65" stroke="#3a3a3a" stroke-width="0.75" fill="none"/>
<rect x="457.90" y="425.09" width="4.90" height="48.21" fill="#1f8a21" stroke="#2a2a2a" stroke-width="0.7"/>
<path d="M467.40 409.16V404.16M466.10 404.16H468.70" stroke="#3a3a3a" stroke-width="0.75" fill="none"/>
<rect x="464.95" y="409.51" width="4.90" height="63.79" fill="#6b6bf8" stroke="#2a2a2a" stroke-width="0.7"/>
<path d="M480.50 451.14V446.31M479.20 446.31H481.80" stroke="#3a3a3a" stroke-width="0.75" fill="none"/>
<rect x="478.05" y="451.49" width="4.90" height="21.81" fill="#b01c1f" stroke="#2a2a2a" stroke-width="0.7"/>
<path d="M487.55 458.89V456.31M486.25 456.31H488.85" stroke="#3a3a3a" stroke-width="0.75" fill="none"/>
<rect x="485.10" y="459.24" width="4.90" height="14.06" fill="#1f8a21" stroke="#2a2a2a" stroke-width="0.7"/>
<path d="M494.60 443.40V441.31M493.30 441.31H495.90" stroke="#3a3a3a" stroke-width="0.75" fill="none"/>
<rect x="492.15" y="443.75" width="4.90" height="29.55" fill="#6b6bf8" stroke="#2a2a2a" stroke-width="0.7"/>
<rect x="505.25" y="473.40" width="4.90" height="0.10" fill="#b01c1f" stroke="#2a2a2a" stroke-width="0.7"/>
<path d="M521.80 468.39V466.30M520.50 466.30H523.10" stroke="#3a3a3a" stroke-width="0.75" fill="none"/>
<rect x="519.35" y="468.74" width="4.90" height="4.56" fill="#6b6bf8" stroke="#2a2a2a" stroke-width="0.7"/>
<path d="M392.80 373.34V473.30H529.00" stroke="#5c5c5c" stroke-width="1.0" fill="none"/>
<path d="M389.50 473.30H392.80M389.50 456.64H392.80M389.50 439.98H392.80M389.50 423.32H392.80M389.50 406.66H392.80M389.50 390.00H392.80M389.50 373.34H392.80" stroke="#4a4a4a" stroke-width="0.9" fill="none"/>
<text x="387.10" y="475.20" font-size="5.5" text-anchor="start" textLength="2.40" lengthAdjust="spacingAndGlyphs" style="font-weight:bold" fill="#222" >0</text>
<text x="384.70" y="458.54" font-size="5.5" text-anchor="start" textLength="4.80" lengthAdjust="spacingAndGlyphs" style="font-weight:bold" fill="#222" >20</text>
<text x="384.70" y="441.88" font-size="5.5" text-anchor="start" textLength="4.80" lengthAdjust="spacingAndGlyphs" style="font-weight:bold" fill="#222" >40</text>
<text x="384.70" y="425.22" font-size="5.5" text-anchor="start" textLength="4.80" lengthAdjust="spacingAndGlyphs" style="font-weight:bold" fill="#222" >60</text>
<text x="384.70" y="408.56" font-size="5.5" text-anchor="start" textLength="4.80" lengthAdjust="spacingAndGlyphs" style="font-weight:bold" fill="#222" >80</text>
<text x="382.30" y="391.90" font-size="5.5" text-anchor="start" textLength="7.20" lengthAdjust="spacingAndGlyphs" style="font-weight:bold" fill="#222" >100</text>
<text x="382.30" y="375.24" font-size="5.5" text-anchor="start" textLength="7.20" lengthAdjust="spacingAndGlyphs" style="font-weight:bold" fill="#222" >120</text>
<path d="M405.95 473.30V476.30" stroke="#4a4a4a" stroke-width="0.8"/>
<text x="0" y="0" font-size="5.2" font-weight="bold" text-anchor="end" fill="#222" stroke="#222" stroke-width="0.15" transform="translate(407.85 482.70) rotate(-48)">0%</text>
<path d="M433.15 473.30V476.30" stroke="#4a4a4a" stroke-width="0.8"/>
<text x="0" y="0" font-size="5.2" font-weight="bold" text-anchor="end" fill="#222" stroke="#222" stroke-width="0.15" transform="translate(435.05 482.70) rotate(-48)">30%</text>
<path d="M460.35 473.30V476.30" stroke="#4a4a4a" stroke-width="0.8"/>
<text x="0" y="0" font-size="5.2" font-weight="bold" text-anchor="end" fill="#222" stroke="#222" stroke-width="0.15" transform="translate(462.25 482.70) rotate(-48)">50%</text>
<path d="M487.55 473.30V476.30" stroke="#4a4a4a" stroke-width="0.8"/>
<text x="0" y="0" font-size="5.2" font-weight="bold" text-anchor="end" fill="#222" stroke="#222" stroke-width="0.15" transform="translate(489.45 482.70) rotate(-48)">70%</text>
<path d="M514.75 473.30V476.30" stroke="#4a4a4a" stroke-width="0.8"/>
<text x="0" y="0" font-size="5.2" font-weight="bold" text-anchor="end" fill="#222" stroke="#222" stroke-width="0.15" transform="translate(516.65 482.70) rotate(-48)">90%</text>
<text x="430.75" y="398.00" font-size="8.4" text-anchor="start" textLength="6.80" lengthAdjust="spacingAndGlyphs" style="" fill="#333"  stroke="#333" stroke-width="0.2">**</text>
<text x="446.15" y="426.00" font-size="8.4" text-anchor="start" textLength="13.60" lengthAdjust="spacingAndGlyphs" style="" fill="#333"  stroke="#333" stroke-width="0.2">****</text>
<text x="451.90" y="417.00" font-size="8.4" text-anchor="start" textLength="13.60" lengthAdjust="spacingAndGlyphs" style="" fill="#333"  stroke="#333" stroke-width="0.2">****</text>
<text x="461.50" y="403.00" font-size="8.4" text-anchor="start" textLength="13.60" lengthAdjust="spacingAndGlyphs" style="" fill="#333"  stroke="#333" stroke-width="0.2">****</text>
<text x="473.95" y="439.00" font-size="8.4" text-anchor="start" textLength="13.60" lengthAdjust="spacingAndGlyphs" style="" fill="#333"  stroke="#333" stroke-width="0.2">****</text>
<text x="480.10" y="445.00" font-size="8.4" text-anchor="start" textLength="13.60" lengthAdjust="spacingAndGlyphs" style="" fill="#333"  stroke="#333" stroke-width="0.2">****</text>
<text x="488.65" y="435.00" font-size="8.4" text-anchor="start" textLength="13.60" lengthAdjust="spacingAndGlyphs" style="" fill="#333"  stroke="#333" stroke-width="0.2">****</text>
<text x="502.55" y="473.00" font-size="8.4" text-anchor="start" textLength="13.60" lengthAdjust="spacingAndGlyphs" style="" fill="#333"  stroke="#333" stroke-width="0.2">****</text>
<text x="507.20" y="466.00" font-size="8.4" text-anchor="start" textLength="13.60" lengthAdjust="spacingAndGlyphs" style="" fill="#333"  stroke="#333" stroke-width="0.2">****</text>
<text x="516.40" y="459.00" font-size="8.4" text-anchor="start" textLength="13.60" lengthAdjust="spacingAndGlyphs" style="" fill="#333"  stroke="#333" stroke-width="0.2">****</text>
<text x="393.20" y="366.50" font-size="7.6" text-anchor="start" style="font-weight:bold" fill="#111"  stroke="#111" stroke-width="0.2">I</text>
<text x="0" y="0" font-size="5.5" font-weight="bold" text-anchor="middle" textLength="65.50" lengthAdjust="spacing" fill="#111" stroke="#111" stroke-width="0.15" transform="translate(372.70 422.70) rotate(-90)">Bacterial growth (%)</text>
<text x="419.70" y="506.00" font-size="7.0" text-anchor="start" textLength="74.00" lengthAdjust="spacingAndGlyphs" style="font-weight:bold" fill="#111"  stroke="#111" stroke-width="0.25">Concentration of pure protein</text>
<text x="429.90" y="514.20" font-size="7.0" text-anchor="start" textLength="54.00" lengthAdjust="spacingAndGlyphs" style="font-weight:bold" fill="#111"  stroke="#111" stroke-width="0.25">from <tspan font-style="italic">C. accolens</tspan> C787</text>
<text x="68.70" y="12.50" font-size="7.2" text-anchor="start" textLength="54.60" lengthAdjust="spacingAndGlyphs" style="font-weight:bold" fill="#111"  stroke="#111" stroke-width="0.3">Concentrated CFCS</text>
<text x="224.00" y="14.50" font-size="7.2" text-anchor="start" textLength="108.70" lengthAdjust="spacingAndGlyphs" style="font-weight:bold" fill="#111"  stroke="#111" stroke-width="0.3">Proteinase K and heat inactivated CFCS</text>
<text x="418.70" y="14.60" font-size="7.2" text-anchor="start" textLength="39.30" lengthAdjust="spacingAndGlyphs" style="font-weight:bold" fill="#111"  stroke="#111" stroke-width="0.3">Purified CFCS</text>
<rect x="477.9" y="24.70" width="6.4" height="3.4" fill="#b01c1f" stroke="#2a2a2a" stroke-width="0.7"/>
<text x="488.20" y="28.60" font-size="6.6" text-anchor="start" textLength="53.10" lengthAdjust="spacingAndGlyphs" style="" fill="#111"  stroke="#111" stroke-width="0.2"><tspan font-style="italic">S. aureus</tspan> C26 (MSSA)</text>
<rect x="477.9" y="35.90" width="6.4" height="3.4" fill="#1f8a21" stroke="#2a2a2a" stroke-width="0.7"/>
<text x="488.20" y="39.80" font-size="6.6" text-anchor="start" textLength="57.10" lengthAdjust="spacingAndGlyphs" style="" fill="#111"  stroke="#111" stroke-width="0.2"><tspan font-style="italic">S. aureus</tspan> C261 (MRSA)</text>
<rect x="477.9" y="46.80" width="6.4" height="3.4" fill="#6b6bf8" stroke="#2a2a2a" stroke-width="0.7"/>
<text x="488.20" y="50.70" font-size="6.6" text-anchor="start" textLength="51.60" lengthAdjust="spacingAndGlyphs" style="" fill="#111"  stroke="#111" stroke-width="0.2"><tspan font-style="italic">S. aureus</tspan> ATCC25923</text>
</svg>
</body></html>
